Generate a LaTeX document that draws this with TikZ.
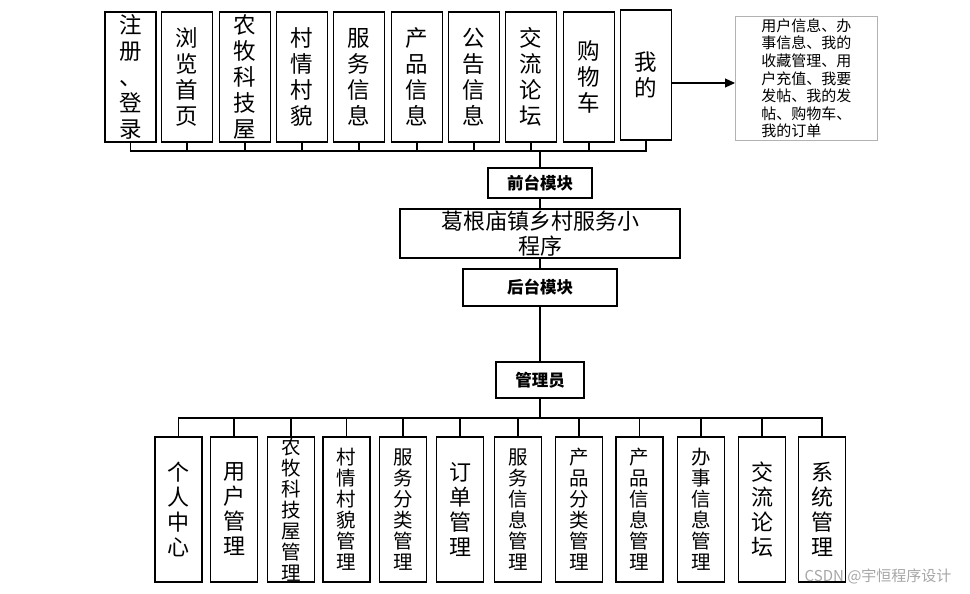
\documentclass[tikz,border=0pt]{standalone}
\usepackage{fontspec}
\setmainfont{Noto Sans CJK SC}
\usetikzlibrary{arrows.meta}
\begin{document}
\begin{tikzpicture}[x=1pt,y=-1pt,
  box/.style={draw,line width=1.2pt,inner sep=0pt,align=center},
  topbox/.style={box,minimum width=51pt,minimum height=130pt,font=\fontsize{22.5}{26}\selectfont},
  botbox/.style={box,minimum width=47pt,minimum height=145pt},
  fs/.style={font=\fontsize{22}{25}\selectfont},
  fl/.style={font=\fontsize{19.5}{21}\selectfont},
  modbox/.style={box,font=\fontsize{16.5}{18}\selectfont\bfseries},
  wire/.style={line width=1.2pt}]
\useasboundingbox (0,0) rectangle (970,594);
% top row
\foreach \i/\x/\t in {1/130.5/注\\册\\、\\登\\录, 2/187/浏\\览\\首\\页, 3/245/农\\牧\\科\\技\\屋, 4/302/村\\情\\村\\貌, 5/359/服\\务\\信\\息, 6/417/产\\品\\信\\息, 7/474/公\\告\\信\\息, 8/531/交\\流\\论\\坛, 9/589/购\\物\\车}
  \node[topbox] (t\i) at (\x,77) {\t};
\node[topbox] (t10) at (646,75) {我\\的};
\node[draw=black!30,line width=0.6pt,minimum width=142pt,minimum height=124pt,inner sep=2pt,align=left,anchor=north west,font=\fontsize{15}{17.6}\selectfont] (info) at (735,16) {用户信息、办\\事信息、我的\\收藏管理、用\\户充值、我要\\发帖、我的发\\帖、购物车、\\我的订单};
\draw[wire,-{Triangle[length=10pt,width=9pt]}] (t10.east |- 0,83) coordinate (a0) -- (a0 -| info.west);
\coordinate (tb) at (540,151);
\draw[wire] (t1.south) |- (tb) -| (t10.south);
\foreach \i in {2,...,9} \draw[wire] (t\i.south) -- (t\i.south |- tb);
\node[modbox,minimum width=104pt,minimum height=30pt] (qt) at (540,183) {前台模块};
\node[box,minimum width=280pt,minimum height=49pt,font=\fontsize{22}{25}\selectfont] (main) at (540,233.5) {葛根庙镇乡村服务小\\程序};
\node[modbox,minimum width=154pt,minimum height=37pt] (ht) at (540,287.5) {后台模块};
\node[modbox,minimum width=88pt,minimum height=36pt] (gly) at (540,380) {管理员};
\draw[wire] (tb) -- (qt.north);
\draw[wire] (qt.south) -- (main.north);
\draw[wire] (main.south) -- (ht.north);
\draw[wire] (ht.south) -- (gly.north);
% bottom row
\foreach \i/\x/\f/\t in {1/178.5/fs/个\\人\\中\\心, 2/234/fs/用\\户\\管\\理, 3/291/fl/农\\牧\\科\\技\\屋\\管\\理, 4/346.5/fl/村\\情\\村\\貌\\管\\理, 5/403/fl/服\\务\\分\\类\\管\\理, 6/460/fs/订\\单\\管\\理, 7/518/fl/服\\务\\信\\息\\管\\理, 8/579/fl/产\\品\\分\\类\\管\\理, 9/639.5/fl/产\\品\\信\\息\\管\\理, 10/701/fl/办\\事\\信\\息\\管\\理, 11/762/fs/交\\流\\论\\坛, 12/822/fs/系\\统\\管\\理}
  \node[botbox,\f] (b\i) at (\x,509.5) {\t};
\coordinate (bb) at (540,418);
\draw[wire] (gly.south) -- (bb);
\draw[wire] (b1.north) |- (bb) -| (b12.north);
\foreach \i in {2,...,11} \draw[wire] (b\i.north) -- (b\i.north |- bb);
\node[text=black!35,anchor=east,font=\fontsize{15}{17}\selectfont] (wm) at (955,576) {CSDN @宇恒程序设计};
\end{tikzpicture}
\end{document}
